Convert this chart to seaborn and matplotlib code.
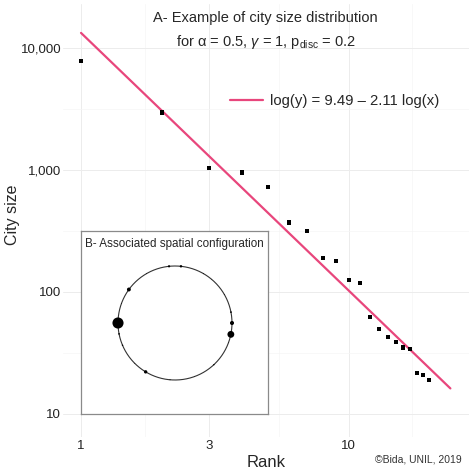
import numpy as np
import pandas as pd
import seaborn as sns
import matplotlib.pyplot as plt
from matplotlib.ticker import FixedLocator, FuncFormatter

# data
rank = list(range(1, 21))
city_size = [7800, 2950, 1040, 950, 720, 370, 315, 190, 180, 125,
             119, 62, 50, 43, 39, 35, 34, 21.5, 21, 19]

# fitted power law: log(y) = 9.49 - 2.11 log(x)
fit_intercept = 9.49
fit_slope = -2.11
fit_rank = [1, 24]

# position of each city on the circle (degrees), same order as city_size
city_angle = [180, -11.5, 0, 144, 239, 84, 96, 11, 191, 203,
              313, 265, 60, 30, 120, 160, 225, 290, 340, 50]

x_ticks = [1, 3, 10]
x_minor = [np.sqrt(3), np.sqrt(30), np.sqrt(300)]
y_ticks = [10, 100, 1000, 10000]
y_minor = [np.sqrt(1000), np.sqrt(1e5), np.sqrt(1e7)]

sns.set_theme(style="white")
plt.rcParams['font.family'] = ['Liberation Sans', 'DejaVu Sans']
plt.rcParams['mathtext.fontset'] = 'custom'
plt.rcParams['mathtext.rm'] = 'Liberation Sans'
plt.rcParams['mathtext.it'] = 'Liberation Sans:italic'

df = pd.DataFrame({"rank": rank, "size": city_size})
fit_df = pd.DataFrame({"rank": fit_rank,
                       "size": [np.exp(fit_intercept + fit_slope * np.log(r)) for r in fit_rank]})

fig = plt.figure(figsize=(4.74, 4.74), dpi=100)
ax = fig.add_axes([0.132, 0.078, 0.857, 0.914])

sns.lineplot(data=fit_df, x="rank", y="size", ax=ax, color="#e8467c", lw=1.6,
             label="log(y) = 9.49 \u2013 2.11 log(x)")
sns.scatterplot(data=df, x="rank", y="size", ax=ax, marker="s", s=9,
                color="black", edgecolor="none", zorder=3)

ax.set_xscale("log")
ax.set_yscale("log")
ax.set_xlim(10 ** -0.069, 10 ** 1.449)
ax.set_ylim(10 ** 0.811, 10 ** 4.36)

ax.xaxis.set_major_locator(FixedLocator(x_ticks))
ax.xaxis.set_minor_locator(FixedLocator(x_minor))
ax.yaxis.set_major_locator(FixedLocator(y_ticks))
ax.yaxis.set_minor_locator(FixedLocator(y_minor))
ax.xaxis.set_major_formatter(FuncFormatter(lambda v, p: f"{v:,.0f}"))
ax.yaxis.set_major_formatter(FuncFormatter(lambda v, p: f"{v:,.0f}"))
ax.xaxis.set_minor_formatter(FuncFormatter(lambda v, p: ""))
ax.yaxis.set_minor_formatter(FuncFormatter(lambda v, p: ""))
ax.tick_params(axis="both", which="both", length=0, labelsize=9.5, colors="#222222")
ax.tick_params(axis="x", pad=2)
ax.tick_params(axis="y", pad=1)
ax.grid(True, which="major", color="#ececec", lw=0.7)
ax.grid(True, which="minor", color="#f5f5f5", lw=0.5)
ax.set_axisbelow(True)
for s in ax.spines.values():
    s.set_visible(False)

ax.set_xlabel("Rank", fontsize=12, labelpad=2)
ax.set_ylabel("")
fig.text(13 / 474, 1 - 215 / 474, "City size", rotation=90, ha="center", va="center",
         fontsize=11.5)

leg = ax.legend(loc="center left", bbox_to_anchor=(0.38, 0.775), frameon=False,
                fontsize=10.7, handlelength=2.2, handletextpad=0.45)

ax.text(0.5, 0.967, "A- Example of city size distribution", transform=ax.transAxes,
        ha="center", va="center", fontsize=10.5)
ax.text(0.5, 0.912, r"for α = 0.5, $\gamma$ = 1, p$_{\mathrm{disc}}$ = 0.2", transform=ax.transAxes,
        ha="center", va="center", fontsize=10.5)

fig.text(0.975, 0.03, "\u00a9Bida, UNIL, 2019", ha="right", va="center", fontsize=7.5,
         color="#333333")

# inset: spatial configuration
ins = fig.add_axes([81 / 474, 60 / 474, 187 / 474, 183 / 474])
ins.set_xlim(0, 187)
ins.set_ylim(0, 183)
ins.set_xticks([])
ins.set_yticks([])
ins.set_facecolor("white")
for s in ins.spines.values():
    s.set_color("#8a8a8a")
    s.set_linewidth(0.9)
cx, cy, r = 94, 91, 57
t = np.linspace(0, 2 * np.pi, 300)
ins.plot(cx + r * np.cos(t), cy + r * np.sin(t), color="#333333", lw=0.8)
ang = np.radians(city_angle)
pts = pd.DataFrame({"x": cx + r * np.cos(ang), "y": cy + r * np.sin(ang),
                    "s": [v / max(city_size) * 64 for v in city_size]})
ins.scatter(pts["x"], pts["y"], s=pts["s"], color="black", edgecolor="none", zorder=3)
ins.text(0.5, 0.93, "B- Associated spatial configuration", transform=ins.transAxes,
         ha="center", va="center", fontsize=8.4)

fig.savefig("out.png", dpi=100)
